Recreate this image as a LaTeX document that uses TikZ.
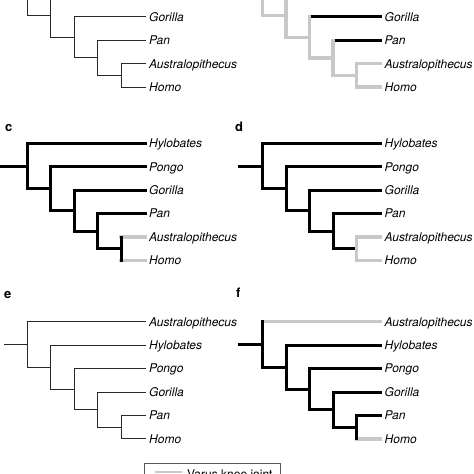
\documentclass[tikz,border=0pt]{standalone}
\usepackage{fontspec}
\setmainfont{TeX Gyre Heros}
\definecolor{lgray}{RGB}{200,200,200}
\definecolor{dline}{RGB}{40,40,40}
\def\rowd{23.45}
\tikzset{
  branch/.style={},
  stub/.style={branch}, int2/.style={branch}, int3/.style={branch}, int4/.style={branch}, int5/.style={branch},
  tip1/.style={branch}, tip2/.style={branch}, tip3/.style={branch}, tip4/.style={branch}, tip5/.style={branch}, tip6/.style={branch},
  vert1/.style={branch}, vert2/.style={branch}, vert3/.style={branch}, vert4/.style={branch}, vert5/.style={branch},
  thinb/.style={draw=dline, line width=1pt, line cap=rect},
  blk/.style={draw=black, line width=3pt, line cap=rect},
  gry/.style={draw=lgray, line width=3.4pt, line cap=rect},
  taxon/.style={anchor=base west, inner sep=0pt, xshift=4pt, yshift=-4.3pt, font=\fontsize{12}{14}\selectfont\itshape},
  plabel/.style={anchor=base west, inner sep=0pt, font=\fontsize{13}{15}\selectfont\bfseries},
}
\newcommand\phyloframe[4]{%
  \path
    coordinate (#1t1) at ({#2+145},{#3})
    coordinate (#1t2) at ({#2+145},{#3+\rowd})
    coordinate (#1t3) at ({#2+145},{#3+2*\rowd})
    coordinate (#1t4) at ({#2+145},{#3+3*\rowd})
    coordinate (#1t5) at ({#2+145},{#3+4*\rowd})
    coordinate (#1t6) at ({#2+145},{#3+5*\rowd})
    coordinate (#1n5) at ({#2+121},{#3+4.5*\rowd})
    coordinate (#1n4) at ({#2+97.5},{#3+3.75*\rowd})
    coordinate (#1n3) at ({#2+74},{#3+2.875*\rowd})
    coordinate (#1n2) at ({#2+50.5},{#3+1.9375*\rowd})
    coordinate (#1n1) at ({#2+27},{#3+0.96875*\rowd})
    coordinate (#1s) at ({#4},{#3+0.96875*\rowd});
  \draw[stub] (#1s) -- (#1n1);
  \draw[int2] (#1n1 |- #1n2) -- (#1n2);
  \draw[int3] (#1n2 |- #1n3) -- (#1n3);
  \draw[int4] (#1n3 |- #1n4) -- (#1n4);
  \draw[int5] (#1n4 |- #1n5) -- (#1n5);
  \draw[tip1] (#1n1 |- #1t1) -- (#1t1);
  \draw[tip2] (#1n2 |- #1t2) -- (#1t2);
  \draw[tip3] (#1n3 |- #1t3) -- (#1t3);
  \draw[tip4] (#1n4 |- #1t4) -- (#1t4);
  \draw[tip5] (#1n5 |- #1t5) -- (#1t5);
  \draw[tip6] (#1n5 |- #1t6) -- (#1t6);
  \draw[vert1] (#1n1 |- #1t1) -- (#1n1 |- #1n2);
  \draw[vert2] (#1n2 |- #1t2) -- (#1n2 |- #1n3);
  \draw[vert3] (#1n3 |- #1t3) -- (#1n3 |- #1n4);
  \draw[vert4] (#1n4 |- #1t4) -- (#1n4 |- #1n5);
  \draw[vert5] (#1n5 |- #1t5) -- (#1n5 |- #1t6);
}
\newcommand\phylolabels[2]{%
  \foreach \nm/\i in {#2} {\node[taxon] (#1l\i) at (#1t\i) {\nm};}%
}
\begin{document}
\begin{tikzpicture}[x=1pt, y=-1pt]
\useasboundingbox (0,0) rectangle (474,474);
\clip (0,0) rectangle (474,474);
% panel a
\begin{scope}[branch/.style={thinb}]
  \phyloframe{a-}{0}{-30.1}{0}
  \phylolabels{a-}{Gorilla/3,Pan/4,Australopithecus/5,Homo/6}
\end{scope}
% panel b
\begin{scope}[branch/.style={gry}, tip3/.style={blk}, tip4/.style={blk}]
  \phyloframe{b-}{235.5}{-30.1}{238}
  \phylolabels{b-}{Gorilla/3,Pan/4,Australopithecus/5,Homo/6}
\end{scope}
% panel c
\node[plabel] (lc) at (5,131) {c};
\begin{scope}[branch/.style={blk}, tip5/.style={gry}, tip6/.style={gry}]
  \phyloframe{c-}{0}{143.3}{0}
  \phylolabels{c-}{Hylobates/1,Pongo/2,Gorilla/3,Pan/4,Australopithecus/5,Homo/6}
\end{scope}
% panel d
\node[plabel] (ld) at (235,131) {d};
\begin{scope}[branch/.style={blk}, tip5/.style={gry}, tip6/.style={gry}, vert5/.style={gry}]
  \phyloframe{d-}{235.5}{143.3}{239.5}
  \phylolabels{d-}{Hylobates/1,Pongo/2,Gorilla/3,Pan/4,Australopithecus/5,Homo/6}
\end{scope}
% panel e
\node[plabel] (le) at (4,298) {e};
\begin{scope}[branch/.style={thinb}]
  \phyloframe{e-}{0}{321.7}{4}
  \phylolabels{e-}{Australopithecus/1,Hylobates/2,Pongo/3,Gorilla/4,Pan/5,Homo/6}
\end{scope}
% panel f
\node[plabel] (lf) at (236,297) {f};
\begin{scope}[branch/.style={blk}, tip1/.style={gry}, tip6/.style={gry}]
  \phyloframe{f-}{235.5}{321.7}{239.5}
  \phylolabels{f-}{Australopithecus/1,Hylobates/2,Pongo/3,Gorilla/4,Pan/5,Homo/6}
\end{scope}
% legend
\draw[draw=black!65, line width=0.9pt] (144.5,463) rectangle (280,510);
\coordinate (lg1) at (155,472);
\coordinate (lg2) at (182,472);
\draw[lgray, line width=2.6pt] (lg1) -- (lg2);
\node[anchor=base west, inner sep=0pt, font=\fontsize{12}{14}\selectfont] (lgt) at (187,478.5) {Varus knee joint};
\end{tikzpicture}
\end{document}
